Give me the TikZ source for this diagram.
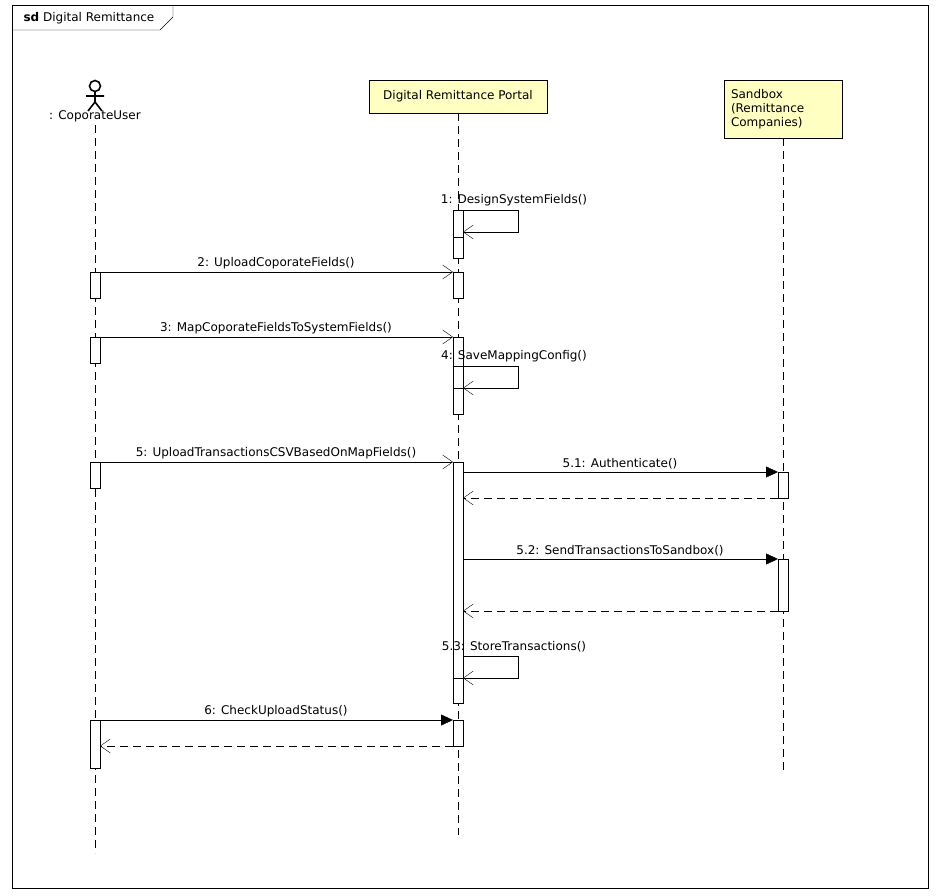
\documentclass[tikz,border=0pt]{standalone}
\usepackage{fontspec}
\setmainfont{DejaVu Sans}
\usetikzlibrary{arrows.meta}
\begin{document}
\begin{tikzpicture}[x=1pt,y=-1pt,font=\fontsize{12}{14}\selectfont,
  ll/.style={dashed,dash pattern=on 8pt off 5pt},
  act/.style={draw,fill=white},
  box/.style={draw,thick,fill={rgb,255:red,255;green,255;blue,194}},
  sync/.style={-{Triangle[length=12pt,width=11pt]}},
  open/.style={-{Straight Barb[length=10pt,width=14pt]}},
  ret/.style={open,dash pattern=on 8pt off 5pt},
  lbl/.style={above,inner sep=2pt}]
\useasboundingbox (0,0) rectangle (940,896);
\draw (12,5) rectangle (928,888);
\draw (12,30) -- (160,30) -- (173,17) -- (173,5);
\node[anchor=west] (title) at (20,18) {\textbf{sd} Digital Remittance};
% actor
\draw[line width=1.6pt] (95,86) circle (5.5);
\draw[line width=1.6pt] (95,92) -- (95,102) (86,96) -- (104,96) (95,102) -- (88,111) (95,102) -- (102,111);
\node (user) at (95,116) {: CoporateUser};
\node[box,minimum width=178pt,minimum height=33pt] (portal) at (458,96.5) {Digital Remittance Portal};
\node[box,minimum width=118pt,minimum height=58pt,text width=104pt,align=left] (sandbox) at (783,109) {Sandbox\\(Remittance\\Companies)};
\draw[ll] (95,125) -- (95,853);
\draw[ll] (portal.south) -- (458,835);
\draw[ll] (sandbox.south) -- (783,770);
% activations
\draw[act] (90,272) rectangle (100,298);
\draw[act] (90,337) rectangle (100,363);
\draw[act] (90,462) rectangle (100,488);
\draw[act] (90,720) rectangle (100,768);
\draw[act] (453,210) rectangle (463,258); \draw (453,237) -- (463,237);
\draw[act] (453,272) rectangle (463,298);
\draw[act] (453,337) rectangle (463,414); \draw (453,366) -- (463,366) (453,388) -- (463,388);
\draw[act] (453,462) rectangle (463,703); \draw (453,678) -- (463,678);
\draw[act] (453,720) rectangle (463,746);
\draw[act] (778,472) rectangle (788,498);
\draw[act] (778,559) rectangle (788,611);
% self calls
\draw[open] (463,210) -- (518,210) -- (518,232) -- (463,232);
\node[lbl] (m1) at (514,208) {1: DesignSystemFields()};
\draw[open] (463,366) -- (518,366) -- (518,388) -- (463,388);
\node[lbl] (m4) at (514,364) {4: SaveMappingConfig()};
\draw[open] (463,656) -- (518,656) -- (518,678) -- (463,678);
\node[lbl] (m53) at (514,654) {5.3: StoreTransactions()};
% messages
\draw[open] (100,272) -- (453,272); \node[lbl] (m2) at (276,271) {2: UploadCoporateFields()};
\draw[open] (100,337) -- (453,337); \node[lbl] (m3) at (276,336) {3: MapCoporateFieldsToSystemFields()};
\draw[open] (100,462) -- (453,462); \node[lbl] (m5) at (276,461) {5: UploadTransactionsCSVBasedOnMapFields()};
\draw[sync] (463,472) -- (778,472); \node[lbl] (m51) at (620,471) {5.1: Authenticate()};
\draw[ret] (778,498) -- (463,498);
\draw[sync] (463,559) -- (778,559); \node[lbl] (m52) at (620,558) {5.2: SendTransactionsToSandbox()};
\draw[ret] (778,611) -- (463,611);
\draw[sync] (100,720) -- (453,720); \node[lbl] (m6) at (276,719) {6: CheckUploadStatus()};
\draw[ret] (453,746) -- (100,746);
\end{tikzpicture}
\end{document}
